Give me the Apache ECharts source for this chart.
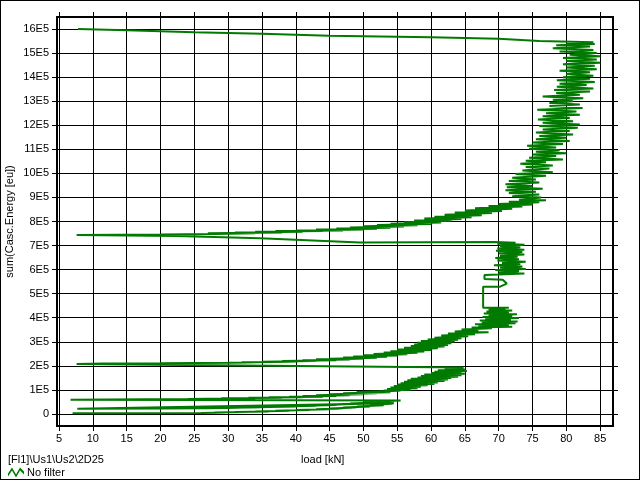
<!DOCTYPE html>
<html><head><meta charset="utf-8">
<script src="https://cdn.jsdelivr.net/npm/echarts@6/dist/echarts.min.js"></script>
<style>
html,body{margin:0;padding:0;background:#fff}
#c{width:640px;height:480px;position:absolute;left:0;top:0}
#f{position:absolute;left:0;top:0;width:640px;height:480px;box-sizing:border-box;border:1px solid #000;pointer-events:none}
</style>
</head><body><div id="c"></div><div id="f"></div>
<script>
const xTicks = [5,10,15,20,25,30,35,40,45,50,55,60,65,70,75,80,85];
const yTicks = [0,1,2,3,4,5,6,7,8,9,10,11,12,13,14,15,16];
const seriesName = 'No filter';
const sourceLabel = '[Fl1]\\Us1\\Us2\\2D25';

// load [kN]
const loadKN = [
7.0,16,26,30,28,33,31,36,34,39,37,42,40,45,43,47,45,49,47,51,49,53,51,54.3,52.5,54.5,
7.7,20,27,32,30,36,34,40,38,43,41,46,44,48,46,50,48,52,50,54,52,55.5,
6.7,12,18,24,30,34,29,38,33,41,36,44,39,46,41,48,43,50,45,52,47,54,49,55.5,
53,57,53.5,58,54,58.5,54.5,59.5,55,60.5,55.5,61,56,62,56.5,62.5,57,63,58,64,58.5,64.5,59,65,60,64.5,60.5,65.3,61,65,62,64.8,
7.6,11.5,20,30,36,32,40,35,43,38,46,41,48,43,50,45,52,47,53.5,48.5,55,50,56.5,51.5,58,53,59,54,60,55,61,56,62,57,62.5,57.5,63,58,63.5,58.5,64,59.5,64.5,60.5,65.5,61.5,66.5,62.5,68.5,63.5,67,64.5,69,66,
72,67,71.5,66.5,72.5,67.5,72.8,67.2,71.8,68,73,67.6,72,68.5,72.7,67.8,71.5,68.2,72,68.5,71,68,71.5,67.7,
67.7,70.2,71.2,70.6,67.9,67.9,70,
73.8,70,73,69.5,74,70.2,73.5,69.3,73.2,70.5,74,69.8,73,69.5,72.8,70.2,73.8,70,73.5,69.6,73.8,69.8,73.2,70.2,73.8,69.8,72.5,69.5,
49.5,34.7,22.4,7.6,
20,28,34,27,38,31,41,34,44,37,47,40,50,43,52,46,54,48,56,50,58,52,60,54,61.5,56,63,57.5,64.5,59,66,60.5,67.5,62,69,63.5,70.5,65,72,66.5,73.5,68.5,75,70,76,71.5,77,73,
76.3,72,76,71.5,75.5,71,76.5,71.2,75,71,76,71.5,75.5,72,77,72.5,78,73.5,77.5,74,78,73.2,77,74,79.5,74.5,78.5,75,80,75.5,79,74.5,78.5,74.2,79.5,75,80.5,75.5,80,76,81,75.5,80.5,76.5,81.7,76,82,76.5,81,75.8,80.5,76.5,82,77,81.5,75.7,82.4,77.5,82,77.5,81,78,82.5,76.5,82,78.5,83.5,78.2,84,78.6,83,79,84.2,78.6,83.5,79.5,84,80,83.5,79,84.5,80,84.2,79.5,85,80,84.5,79.5,85,80.5,84.5,79,84,78,83.5,78.5,84.2,80,84,
76,70,60,45,35,25,15,7.8
];
// sum(Casc.Energy [eu]) in units of 1E5
const energyE5 = [
0.03,0.03,0.04,0.06,0.06,0.08,0.08,0.1,0.1,0.13,0.13,0.16,0.16,0.2,0.2,0.23,0.23,0.27,0.27,0.31,0.31,0.36,0.37,0.42,0.42,0.45,
0.22,0.23,0.24,0.26,0.26,0.28,0.28,0.31,0.31,0.34,0.34,0.37,0.37,0.4,0.4,0.44,0.44,0.48,0.48,0.52,0.52,0.56,
0.59,0.6,0.61,0.62,0.64,0.65,0.65,0.67,0.67,0.69,0.69,0.72,0.72,0.75,0.75,0.78,0.78,0.82,0.82,0.86,0.86,0.9,0.91,0.96,
0.98,1.01,1.04,1.07,1.1,1.13,1.16,1.19,1.22,1.25,1.28,1.31,1.34,1.37,1.4,1.43,1.46,1.49,1.52,1.55,1.58,1.61,1.64,1.67,1.7,1.73,1.76,1.79,1.82,1.85,1.88,1.93,
2.08,2.1,2.11,2.13,2.15,2.15,2.17,2.17,2.2,2.2,2.23,2.23,2.26,2.27,2.3,2.3,2.34,2.35,2.38,2.39,2.43,2.44,2.48,2.49,2.54,2.55,2.6,2.61,2.66,2.68,2.73,2.75,2.8,2.82,2.87,2.89,2.94,2.96,3.01,3.03,3.08,3.1,3.15,3.17,3.23,3.26,3.31,3.34,3.4,3.43,3.48,3.51,3.56,3.59,
3.63,3.66,3.7,3.73,3.77,3.8,3.84,3.88,3.92,3.95,3.99,4.03,4.07,4.1,4.14,4.18,4.22,4.26,4.3,4.34,4.38,4.41,4.42,4.42,
5.29,5.29,5.42,5.58,5.61,5.78,5.8,
5.84,5.88,5.93,5.98,6.03,6.08,6.13,6.18,6.23,6.28,6.33,6.38,6.43,6.48,6.53,6.58,6.63,6.68,6.73,6.78,6.83,6.88,6.93,6.98,7.03,7.08,7.12,7.15,
7.13,7.3,7.4,7.44,
7.46,7.48,7.51,7.51,7.54,7.54,7.57,7.57,7.6,7.6,7.63,7.63,7.67,7.67,7.7,7.71,7.74,7.75,7.79,7.8,7.84,7.85,7.9,7.91,7.96,7.97,8.03,8.04,8.1,8.12,8.18,8.2,8.26,8.28,8.35,8.37,8.44,8.46,8.53,8.55,8.62,8.64,8.71,8.73,8.8,8.82,8.88,8.9,
9.0,9.05,9.12,9.18,9.24,9.3,9.36,9.42,9.48,9.55,9.62,9.68,9.75,9.82,9.9,9.97,10.05,10.12,10.2,10.27,10.33,10.4,10.46,10.52,10.58,10.65,10.72,10.78,10.84,10.9,10.96,11.02,11.08,11.15,11.22,11.28,11.35,11.42,11.48,11.55,11.62,11.7,11.76,11.82,11.9,11.97,12.03,12.1,12.17,12.24,12.3,12.37,12.44,12.5,12.57,12.64,12.72,12.8,12.86,12.93,13.0,13.06,13.12,13.2,13.27,13.34,13.4,13.47,13.53,13.6,13.67,13.73,13.8,13.87,13.93,14.0,14.06,14.13,14.2,14.27,14.33,14.4,14.47,14.54,14.6,14.67,14.73,14.8,14.87,14.93,15.0,15.07,15.13,15.2,15.27,15.33,15.38,15.42,15.45,
15.5,15.6,15.66,15.72,15.8,15.87,15.95,16.0
];

const font = 'Liberation Sans, Arial, sans-serif';
const chart = echarts.init(document.getElementById('c'), null, {renderer: 'canvas'});
const data = loadKN.map((x, i) => [x, energyE5[i]]);
const lineBlack = {color: '#000', width: 1};
const axisBase = {
  type: 'value', min: 4.7, max: 86.9,
  axisLine: {show: true, onZero: false, lineStyle: {color: '#000', width: 2}},
  axisTick: {show: true, inside: false, length: 5, customValues: xTicks, lineStyle: lineBlack}
};
chart.setOption({
  animation: false,
  backgroundColor: '#fff',
  textStyle: {fontFamily: font, color: '#000'},
  grid: {left: 57, top: 17, width: 556, height: 409, containLabel: false, outerBoundsMode: 'none'},
  title: [
    {text: 'load [kN]', left: 296, top: 449, textStyle: {fontSize: 11, fontWeight: 'normal', color: '#000', fontFamily: font}},
    {text: sourceLabel, left: 3, top: 449, textStyle: {fontSize: 11, fontWeight: 'normal', color: '#000', fontFamily: font}}
  ],
  legend: {
    data: [seriesName], left: 3, top: 462, itemWidth: 16, itemHeight: 10, itemGap: 4,
    icon: 'path://M0,6 L4,0 L8,7 L12,0 L16,4 L16,7 L12,3 L8,10 L4,3 L0,9 Z',
    textStyle: {fontSize: 11, color: '#000', fontFamily: font, padding: [0,0,0,-2]}
  },
  xAxis: [
    Object.assign({}, axisBase, {
      position: 'bottom',
      axisLabel: {customValues: xTicks, margin: 7, fontSize: 11, color: '#000', fontFamily: font},
      splitLine: {show: true, lineStyle: lineBlack}
    }),
    Object.assign({}, axisBase, {
      position: 'top',
      axisLabel: {show: false},
      splitLine: {show: false}
    })
  ],
  yAxis: [
    {
      type: 'value', min: -0.5, max: 16.5, position: 'left',
      name: 'sum(Casc.Energy [eu])', nameLocation: 'middle', nameGap: 42, nameRotate: 90,
      nameMoveOverlap: false,
      nameTextStyle: {fontSize: 11, color: '#000', fontFamily: font},
      axisLine: {show: true, onZero: false, lineStyle: {color: '#000', width: 2}},
      axisTick: {show: true, inside: false, length: 5, customValues: yTicks, lineStyle: lineBlack},
      axisLabel: {customValues: yTicks, margin: 8, fontSize: 11, color: '#000', fontFamily: font,
        formatter: v => v === 0 ? '0' : v + 'E5'},
      splitLine: {show: true, lineStyle: lineBlack}
    },
    {
      type: 'value', min: -0.5, max: 16.5, position: 'right',
      axisLine: {show: true, onZero: false, lineStyle: {color: '#000', width: 2}},
      axisTick: {show: true, inside: false, length: 5, customValues: yTicks, lineStyle: lineBlack},
      axisLabel: {show: false},
      splitLine: {show: false}
    }
  ],
  series: [{
    name: seriesName, type: 'line', data: data, xAxisIndex: 0, yAxisIndex: 0,
    showSymbol: false, symbol: 'none', smooth: false,
    lineStyle: {color: '#007a00', width: 2},
    itemStyle: {color: '#007a00'}
  }]
});
</script>
</body></html>
